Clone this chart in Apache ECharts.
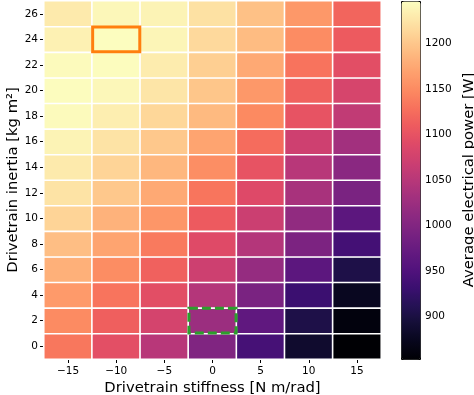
<!DOCTYPE html>
<html>
<head>
<meta charset="utf-8">
<script src="https://cdn.jsdelivr.net/npm/echarts@6/dist/echarts.min.js"></script>
<style>
html,body{margin:0;padding:0;background:#fff;}
#chart{width:474px;height:395px;}
</style>
</head>
<body>
<div id="chart"></div>
<script>
// Categories
const stiffness = [-15, -10, -5, 0, 5, 10, 15];          // x categories [N m/rad]
const inertia = [0, 2, 4, 6, 8, 10, 12, 14, 16, 18, 20, 22, 24, 26]; // y categories [kg m^2]
// Average electrical power [W], one row per inertia value (bottom to top), columns follow stiffness
const power = [
  [1134, 1096, 1051,  999,  942,  886,  853], // 0
  [1150, 1114, 1079, 1025,  967,  904,  860], // 2
  [1164, 1132, 1095, 1047,  993,  932,  876], // 4
  [1182, 1152, 1115, 1071, 1019,  963,  904], // 6
  [1194, 1172, 1137, 1091, 1047,  995,  940], // 8
  [1212, 1184, 1160, 1109, 1069, 1015,  963], // 10
  [1224, 1202, 1176, 1133, 1089, 1037,  993], // 12
  [1230, 1212, 1188, 1153, 1101, 1051, 1009], // 14
  [1238, 1224, 1202, 1172, 1125, 1072, 1031], // 16
  [1244, 1234, 1214, 1190, 1149, 1101, 1059], // 18
  [1246, 1242, 1226, 1200, 1162, 1115, 1081], // 20
  [1244, 1246, 1232, 1208, 1176, 1131, 1095], // 22
  [1236, 1247, 1240, 1216, 1192, 1151, 1109], // 24
  [1230, 1242, 1238, 1222, 1196, 1162, 1119]  // 26
];
// Colour bar
const powerMin = 853;
const powerMax = 1247;
const colorbarTicks = [900, 950, 1000, 1050, 1100, 1150, 1200];
// Highlighted cells
const optimumCell = [-10, 24];
const baselineCell = [0, 2];

const magma = ['#000004','#07061c','#140e36','#251255','#3b0f70','#51127c','#641a80','#782281','#8c2981','#a1307e','#b73779','#cc3f71','#de4968','#ed5a5f','#f7705c','#fc8961','#fe9f6d','#feb77e','#fecf92','#fde7a9','#fcfdbf'];

const heatData = [];
power.forEach((row, yi) => row.forEach((v, xi) => heatData.push([xi, yi, v])));

const FONT = 'DejaVu Sans';
const fmtMinus = v => String(v).replace('-', '\u2212');

function boxSeries(cell, color, dash) {
  return {
    type: 'custom',
    xAxisIndex: 0, yAxisIndex: 0,
    z: 10,
    data: [[stiffness.indexOf(cell[0]), inertia.indexOf(cell[1])]],
    renderItem: (params, api) => {
      const c = api.coord([api.value(0), api.value(1)]);
      const s = api.size([1, 1]);
      return {
        type: 'rect',
        shape: {x: c[0] - s[0] / 2 + 0.5, y: c[1] - s[1] / 2 + 0.5, width: s[0] - 1, height: s[1] - 1},
        style: {fill: 'none', stroke: color, lineWidth: 3, lineDash: dash}
      };
    }
  };
}

const chart = echarts.init(document.getElementById('chart'), null, {renderer: 'canvas'});
chart.setOption({
  animation: false,
  textStyle: {fontFamily: FONT},
  grid: [
    {left: 44, top: 1, width: 337, height: 358, outerBoundsMode: 'none', containLabel: false},
    {left: 401, top: 1, width: 19, height: 358, outerBoundsMode: 'none', containLabel: false}
  ],
  xAxis: [
    {
      gridIndex: 0, type: 'category', data: stiffness, position: 'bottom',
      axisLine: {show: true, lineStyle: {color: '#000', width: 1}},
      axisTick: {show: true, alignWithLabel: true, length: 4, lineStyle: {color: '#000'}},
      axisLabel: {formatter: fmtMinus, fontSize: 10.5, color: '#000', margin: 7, fontFamily: FONT},
      splitLine: {show: false},
      name: 'Drivetrain stiffness [N m/rad]', nameLocation: 'middle', nameGap: 22,
      nameMoveOverlap: false,
      nameTextStyle: {fontSize: 14.8, color: '#000', fontFamily: FONT}
    },
    {
      gridIndex: 0, type: 'category', data: stiffness, position: 'top',
      axisLine: {show: true, lineStyle: {color: '#000', width: 1}},
      axisTick: {show: false}, axisLabel: {show: false}, splitLine: {show: false}
    },
    {gridIndex: 1, type: 'value', show: false, min: 0, max: 1}
  ],
  yAxis: [
    {
      gridIndex: 0, type: 'category', data: inertia, position: 'left',
      axisLine: {show: true, lineStyle: {color: '#000', width: 1}},
      axisTick: {show: true, alignWithLabel: true, length: 4, lineStyle: {color: '#000'}},
      axisLabel: {fontSize: 10.5, color: '#000', margin: 6, fontFamily: FONT},
      splitLine: {show: false},
      name: 'Drivetrain inertia [kg m\u00b2]', nameLocation: 'middle', nameGap: 23,
      nameMoveOverlap: false,
      nameTextStyle: {fontSize: 14.8, color: '#000', fontFamily: FONT}
    },
    {
      gridIndex: 0, type: 'category', data: inertia, position: 'right',
      axisLine: {show: true, lineStyle: {color: '#000', width: 1}},
      axisTick: {show: false}, axisLabel: {show: false}, splitLine: {show: false}
    },
    {
      gridIndex: 1, type: 'value', min: powerMin, max: powerMax, position: 'right',
      axisLine: {show: false},
      axisTick: {show: true, length: 4, customValues: colorbarTicks, lineStyle: {color: '#000'}},
      axisLabel: {customValues: colorbarTicks, formatter: v => String(v), fontSize: 10.5, color: '#000', margin: 5, fontFamily: FONT},
      splitLine: {show: false},
      name: 'Average electrical power [W]', nameLocation: 'middle', nameGap: 42, nameRotate: 90,
      nameMoveOverlap: false,
      nameTextStyle: {fontSize: 14.8, color: '#000', fontFamily: FONT}
    }
  ],
  visualMap: {
    type: 'continuous',
    seriesIndex: 0,
    min: powerMin, max: powerMax,
    calculable: false, showLabel: false, hoverLink: false,
    left: 401, top: 1,
    itemWidth: 19, itemHeight: 358,
    padding: 0,
    borderColor: '#000', borderWidth: 1,
    inRange: {color: magma}
  },
  series: [
    {
      type: 'heatmap',
      xAxisIndex: 0, yAxisIndex: 0,
      data: heatData,
      itemStyle: {borderColor: '#fff', borderWidth: 1.6},
      emphasis: {disabled: true}
    },
    boxSeries(optimumCell, '#ff7f0e', null),
    boxSeries(baselineCell, '#2ca02c', [9, 4])
  ]
});
</script>
</body>
</html>
